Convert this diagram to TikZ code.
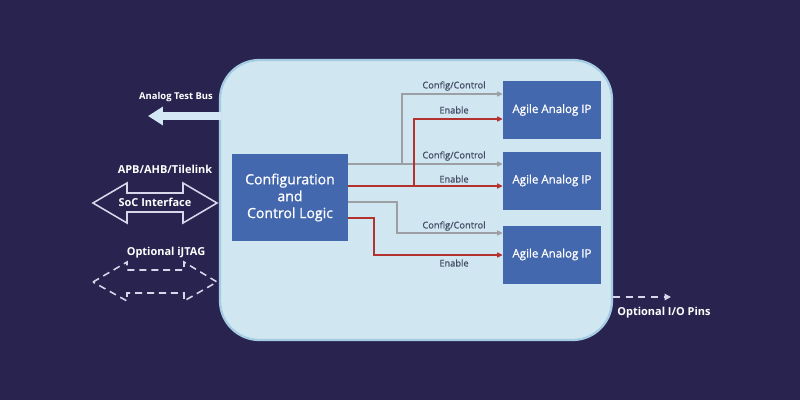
\documentclass[tikz,border=0pt]{standalone}
\usepackage{fontspec}
\setmainfont{Open Sans}
\newfontfamily\semifont{Open Sans}[FakeBold=0.8]
\usepackage{tikz}
\usetikzlibrary{arrows.meta}

\definecolor{navy}{HTML}{29244F}
\definecolor{panel}{HTML}{D0E6F0}
\definecolor{panelrim}{HTML}{A6CBE4}
\definecolor{ipblue}{HTML}{4468AE}
\definecolor{cfggray}{HTML}{9C9FA3}
\definecolor{enred}{HTML}{B3322F}
\definecolor{labelgray}{HTML}{454D66}
\definecolor{busblue}{HTML}{D3E8F4}
\definecolor{paleline}{HTML}{D9D6EC}

\begin{document}
\begin{tikzpicture}[x=0.25mm, y=-0.25mm,
    block/.style = {fill=ipblue, text=white, inner sep=0pt, align=center},
    ipblock/.style = {block, minimum width=24.5mm, minimum height=14.5mm, font=\semifont\fontsize{8.2}{10}\selectfont},
    tag/.style = {text=labelgray, font=\semifont\fontsize{6.6}{8}\selectfont},
    outer/.style = {text=white, font=\bfseries\fontsize{7.8}{9}\selectfont},
    cfg/.style = {draw=cfggray, line width=0.8pt, -{Triangle[length=4pt,width=3.6pt]}},
    en/.style = {draw=enred, line width=0.8pt, -{Triangle[length=4pt,width=3.6pt]}}]
            \useasboundingbox (0,0) rectangle (800,400);
            \fill[navy] (0,0) rectangle (800,400);

            % main panel
            \draw[panelrim, fill=panel, line width=1.6pt, rounded corners=28pt] (220,60) rectangle (612,340);

            \node[block, minimum width=29mm, minimum height=21.75mm, font=\semifont\fontsize{10}{12}\selectfont] (ctrl) at (290,197.5) {Configuration\\and\\Control Logic};
            \node[ipblock] (ipA) at (552,110) {Agile Analog IP};
            \node[ipblock] (ipB) at (552,180.5) {Agile Analog IP};
            \node[ipblock] (ipC) at (552,254.5) {Agile Analog IP};

            % config / enable lines
            \draw[cfg] (ctrl.east |- 0,164) -- (ipB.west |- 0,164);
            \draw[cfg] (402,164) -- (402,94) -- (ipA.west |- 0,94);
            \draw[cfg] (ctrl.east |- 0,202) -| (397,233) -- (ipC.west |- 0,233);
            \draw[en] (ctrl.east |- 0,186) -- (ipB.west |- 0,186);
            \draw[en] (414,186) -- (414,119) -- (ipA.west |- 0,119);
            \draw[en] (ctrl.east |- 0,218) -| (374,255) -- (ipC.west |- 0,255);

            \node[tag] (cfgA) at (454,86) {Config/Control};
            \node[tag] (enA) at (454,110) {Enable};
            \node[tag] (cfgB) at (454,156) {Config/Control};
            \node[tag] (enB) at (454,179) {Enable};
            \node[tag] (cfgC) at (454,226) {Config/Control};
            \node[tag] (enC) at (454,263) {Enable};

            % analog test bus
            \coordinate (busL) at (148,116);
            \draw[busblue, line width=5pt, -{Triangle[length=10.5pt,width=12.5pt]}] (221,116) -- (busL);
            \node[outer, font=\bfseries\fontsize{6.7}{8}\selectfont] (bus) at (176,97) {Analog Test Bus};

            % SoC interface
            \node[outer] (apb) at (165,169) {APB/AHB/Tilelink};
            \draw[paleline, line width=1.1pt, line join=miter] (93,203) -- (127,183) -- (127,193) -- (183,193) -- (183,183) -- (217,203)
                -- (183,223) -- (183,212) -- (127,212) -- (127,223) -- cycle;
            \node[outer] (soc) at (155,202.5) {SoC Interface};

            % optional iJTAG
            \node[outer] (jtag) at (166,253) {Optional iJTAG};
            \draw[paleline, line width=1.1pt, dash pattern=on 5pt off 3.5pt] (93,282) -- (127,262) -- (127,270) -- (184,270) -- (184,262) -- (217,282)
                -- (184,301) -- (184,293) -- (127,293) -- (127,301) -- cycle;

            % optional pins
            \coordinate (pinR) at (671,297);
            \draw[paleline, line width=1pt, dash pattern=on 5pt off 4pt, -{Triangle[length=4.5pt,width=4.5pt]}] (613,297) -- (pinR);
            \node[outer] (pins) at (664,313) {Optional I/O Pins};
        \end{tikzpicture}
\end{document}
